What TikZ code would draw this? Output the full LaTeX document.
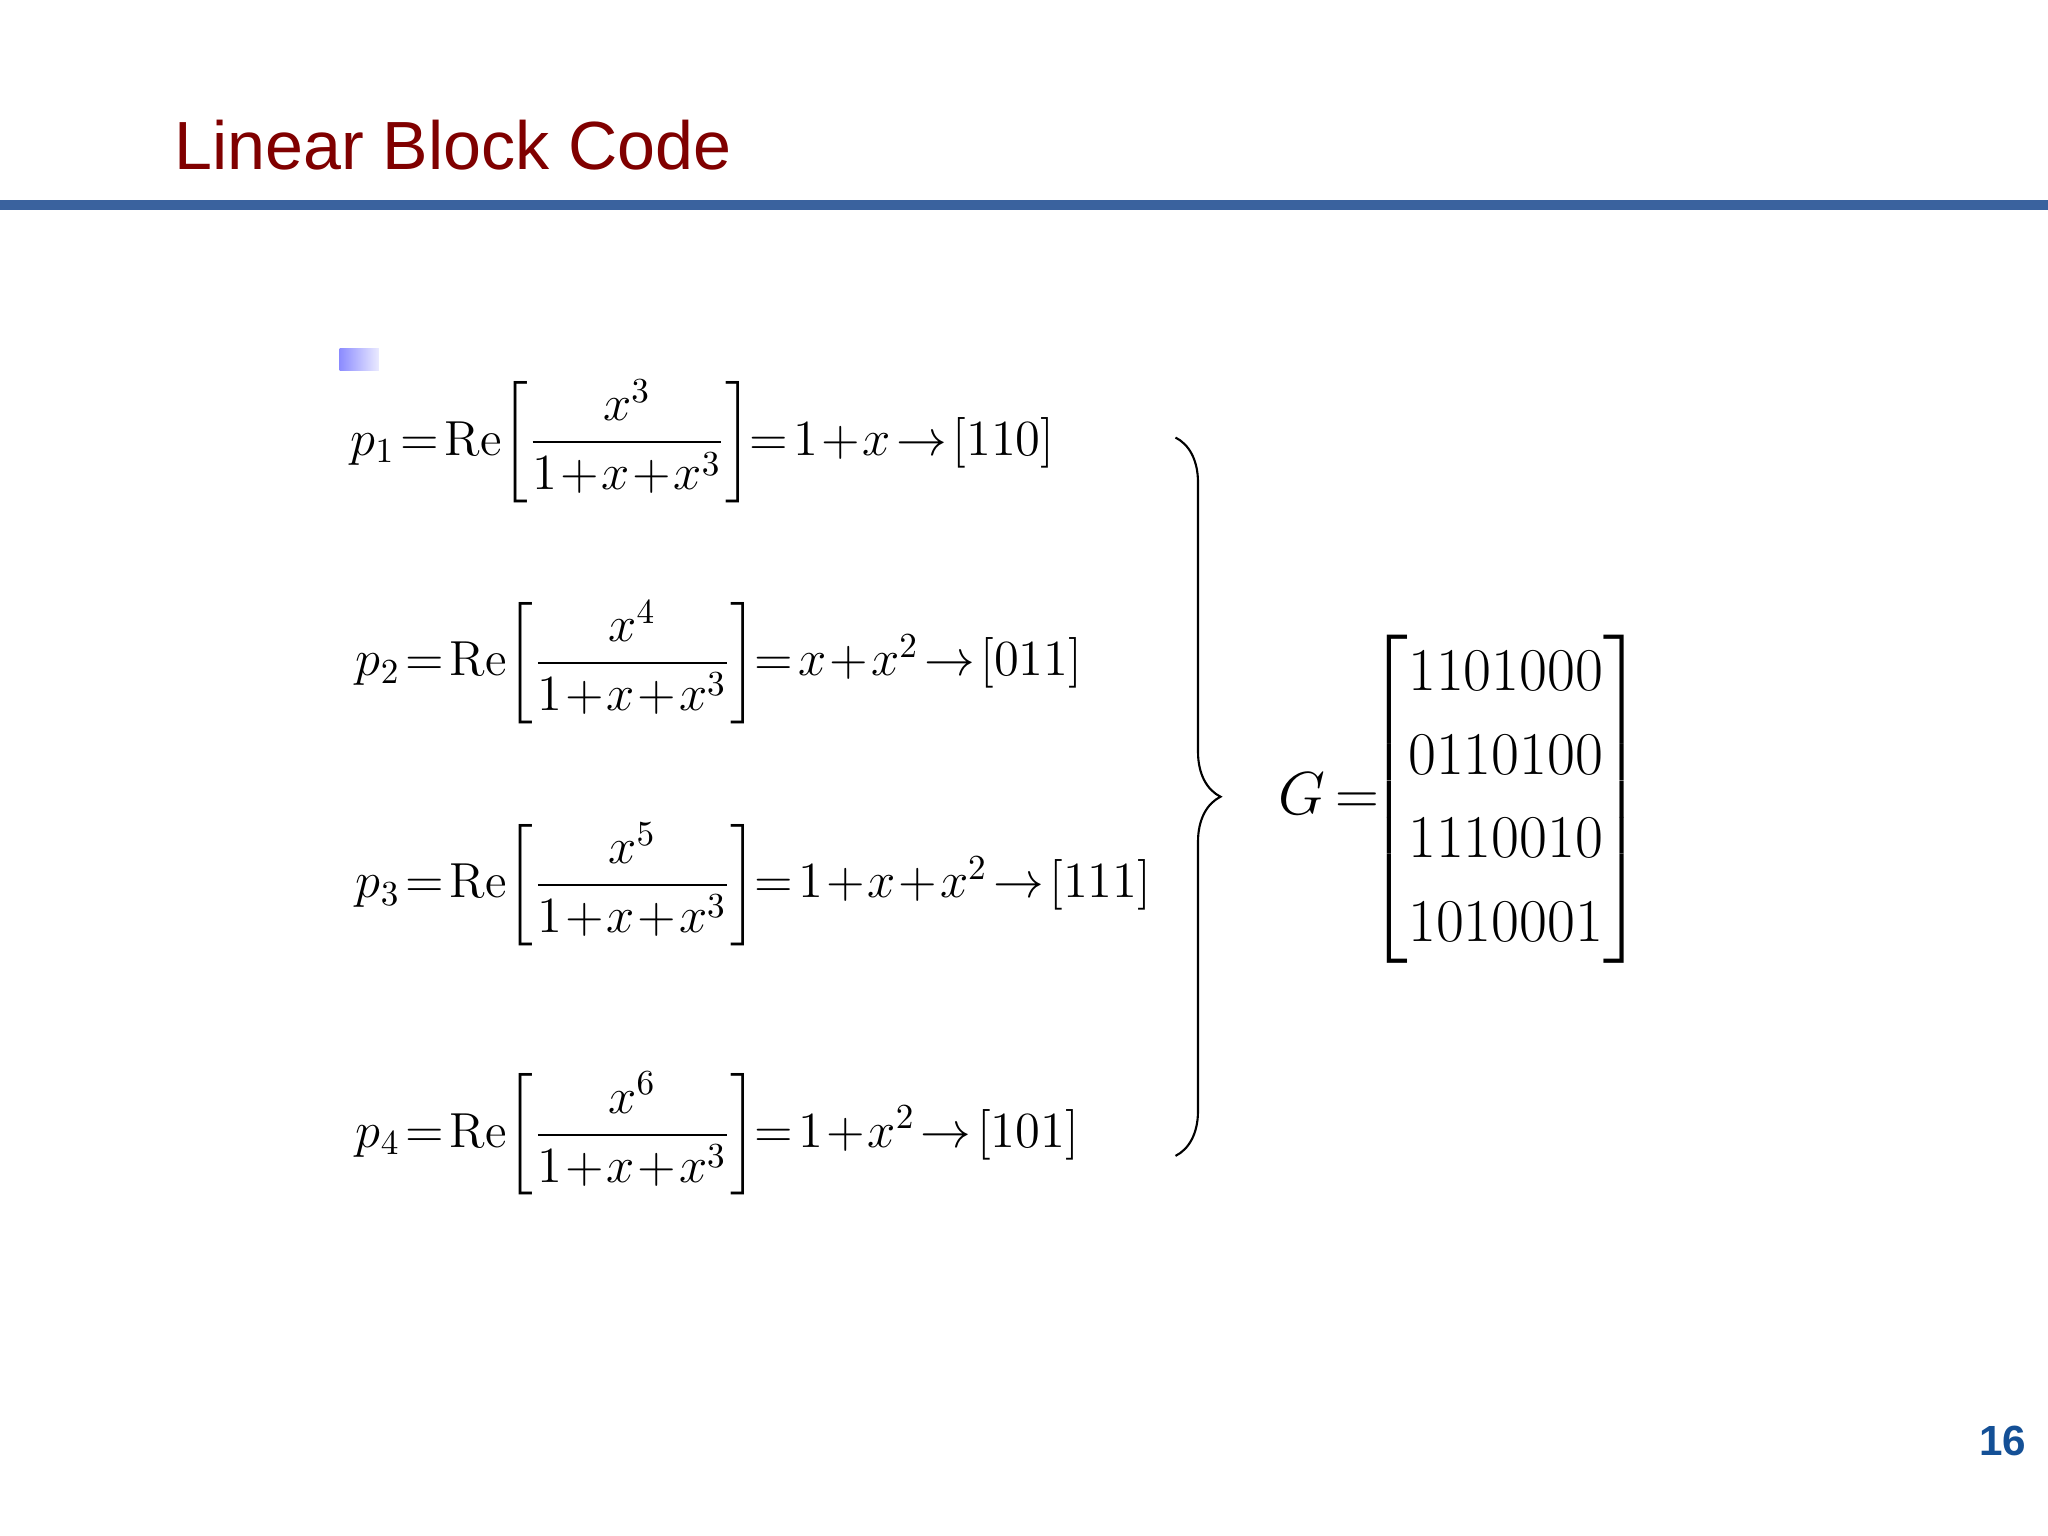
\documentclass[tikz,border=0pt]{standalone}
\usepackage{amsmath}
\usepackage{fontspec}
\newfontfamily\arialf{Liberation Sans}
\usetikzlibrary{decorations.pathreplacing}
\definecolor{titlered}{RGB}{128,0,0}
\definecolor{lineblue}{RGB}{58,98,158}
\definecolor{numblue}{RGB}{20,80,150}
\tikzset{eqn/.style={anchor=west,inner sep=0pt,font=\fontsize{14}{17}\selectfont}}
\thickmuskip=2mu plus 1mu
\medmuskip=1mu
\begin{document}
\begin{tikzpicture}[x=0.01306cm,y=-0.01306cm]
\useasboundingbox (0,0) rectangle (1568,1176);
\fill[white] (0,0) rectangle (1568,1176);
\node[anchor=base west,inner sep=0pt,text=titlered,font=\arialf\fontsize{19.4}{23}\selectfont] (title) at (133,130) {Linear Block Code};
\draw[lineblue,line width=1mm] (0,157) -- (1568,157);
\shade[left color=blue!45!white,right color=blue!8!white] (260,267) rectangle (290,284);
\node[eqn] (e1) at (268,338) {$p_1=\mathrm{Re}\!\left[\dfrac{x^3}{1+x+x^3}\right]\!=1+x\rightarrow[110]$};
\node[eqn] (e2) at (272,507) {$p_2=\mathrm{Re}\!\left[\dfrac{x^4}{1+x+x^3}\right]\!=x+x^2\rightarrow[011]$};
\node[eqn] (e3) at (272,677) {$p_3=\mathrm{Re}\!\left[\dfrac{x^5}{1+x+x^3}\right]\!=1+x+x^2\rightarrow[111]$};
\node[eqn] (e4) at (272,868) {$p_4=\mathrm{Re}\!\left[\dfrac{x^6}{1+x+x^3}\right]\!=1+x^2\rightarrow[101]$};
\coordinate (bt) at (900,335);
\coordinate (bb) at (900,885);
\draw[decorate,decoration={brace,amplitude=0.45cm},semithick] (bt) -- (bb);
\node[eqn,font=\fontsize{16}{19}\selectfont] (G) at (978,612) {$G\,{=}\hspace{-6pt}\renewcommand{\arraystretch}{1.25}\begin{bmatrix}1101000\\0110100\\1110010\\1010001\end{bmatrix}$};
\node[anchor=base east,inner sep=0pt,text=numblue,font=\arialf\bfseries\fontsize{12}{14}\selectfont] (num) at (1552,1114) {16};
\end{tikzpicture}
\end{document}
